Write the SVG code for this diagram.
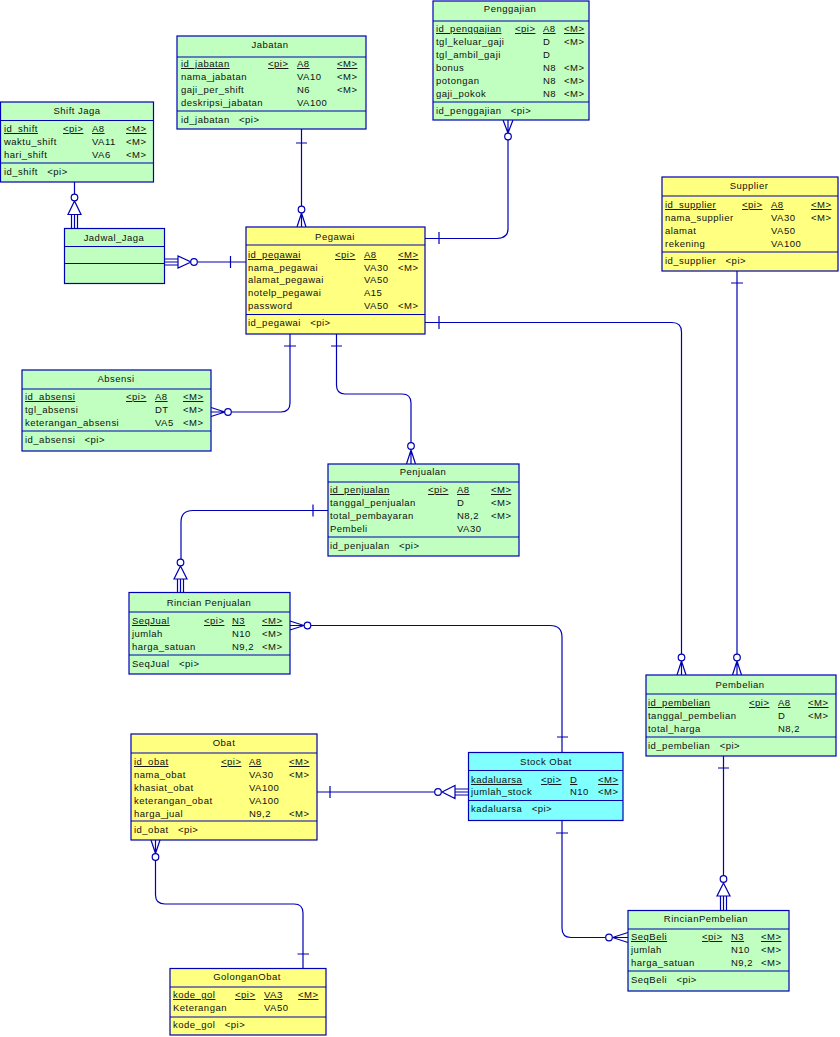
<svg xmlns="http://www.w3.org/2000/svg" width="840" height="1037" viewBox="0 0 840 1037">
<style>
text{font-family:"Liberation Sans",Arial,sans-serif;font-size:9.5px;letter-spacing:.48px;fill:#101010;white-space:pre}
.t{text-anchor:middle}
.u{text-decoration:underline}
.b{stroke:#0000b4;stroke-width:1.2}
.g{fill:#c0ffc0}.y{fill:#ffff80}.c{fill:#80ffff}
.l,.l *{fill:none;stroke:#0000b4;stroke-width:1.2}
.l circle{fill:#fff}
</style>
<rect width="840" height="1037" fill="#fff"/>
<g id="connectors" class="l">
<path d="M301.500 129V206M296 143H307M301.500 213L297 227M301.500 213V227M301.500 213L306 227"/><circle cx="301.500" cy="209.500" r="3.300"/>
<path d="M508 133V229Q508 238 497 238.500H425M439 232V244M508 133L503 120M508 133V120M508 133L513 120"/><circle cx="508" cy="136.500" r="3.300"/>
<path d="M425 322.500H672Q681.500 322.500 681.500 332V654M439 316V329M681.500 661L677 675M681.500 661V675M681.500 661L686 675"/><circle cx="681.500" cy="657.500" r="3.300"/>
<path d="M737 271V654M731 283H743M737 661L732.500 675M737 661V675M737 661L741.500 675"/><circle cx="737" cy="657.500" r="3.300"/>
<path d="M723.500 756V875M718 768H729M723.500 883L717 896H730ZM720.500 896V910M723.500 896V910M726.500 896V910"/><circle cx="723.500" cy="879" r="3.300"/>
<path d="M74.500 182V194M74.500 201L68 214.500H81ZM71.500 214.500V228M74.500 214.500V228M77.500 214.500V228"/><circle cx="74.500" cy="197.500" r="3.300"/>
<path d="M164 259H178M164 262H178M164 265H178M178 256V268L191 262ZM197.500 262H246M230.500 256V268"/><circle cx="194" cy="262" r="3.300"/>
<path d="M290 334V403Q290 412 281 412H231.500M284 346H296M225 412L211 407.500M225 412H211M225 412L211 416.500"/><circle cx="228" cy="412" r="3.300"/>
<path d="M336.500 334V385Q336.500 394 345 394H402Q411 394 411 403V442.500M331 346H342M411 450L406.500 464M411 450V464M411 450L415.500 464"/><circle cx="411" cy="446" r="3.300"/>
<path d="M328 510.500H193Q181 510.500 181 522V559M313 504.500V516.500M180.500 566L174 579H187ZM177.500 579V592.500M180.500 579V592.500M183.500 579V592.500"/><circle cx="180.500" cy="562.500" r="3.300"/>
<path d="M311 625.500H550Q562 625.500 562 637V752.500M557 737H568M304 625.500L290 621M304 625.500H290M304 625.500L290 630"/><circle cx="307.500" cy="625.500" r="3.300"/>
<path d="M317 792H434.500M330 786V798M442 792L455 785.500V798.500ZM455 789H468.500M455 792H468.500M455 795H468.500"/><circle cx="438" cy="792" r="3.300"/>
<path d="M562 820V928Q562 937.500 571 937.500H605.500M556 833H568M612.500 937.500L628 932.500M612.500 937.500H628M612.500 937.500L628 942.500"/><circle cx="609" cy="937.500" r="3.300"/>
<path d="M155.500 860.500V895Q155.500 904 165 904H294Q303 904 303 913V968.500M297.500 954H309M155.500 853.500L151 840M155.500 853.500V840M155.500 853.500L160 840"/><circle cx="155.500" cy="857" r="3.300"/>
</g>
<g id="jabatan">
<rect class="g b" x="177" y="36" width="189" height="93"/><path class="b" d="M177 57H366M177 111H366"/>
<text class="t" x="270" y="48">Jabatan</text>
<text class="u" x="181" y="67">id_jabatan</text><text class="u" x="268" y="67">&lt;pi&gt;</text><text class="u" x="297" y="67">A8</text><text class="u" x="337" y="67">&lt;M&gt;</text>
<text x="181" y="80">nama_jabatan</text><text x="297" y="80">VA10</text><text x="337" y="80">&lt;M&gt;</text>
<text x="181" y="93">gaji_per_shift</text><text x="297" y="93">N6</text><text x="337" y="93">&lt;M&gt;</text>
<text x="181" y="106">deskripsi_jabatan</text><text x="297" y="106">VA100</text>
<text x="181" y="123">id_jabatan   &lt;pi&gt;</text>
</g>
<g id="penggajian">
<rect class="g b" x="433" y="1" width="156" height="119"/><path class="b" d="M433 21H589M433 102H589"/>
<text class="t" x="510" y="12">Penggajian</text>
<text class="u" x="436" y="32">id_penggajian</text><text class="u" x="515" y="32">&lt;pi&gt;</text><text class="u" x="543" y="32">A8</text><text class="u" x="564" y="32">&lt;M&gt;</text>
<text x="436" y="45">tgl_keluar_gaji</text><text x="543" y="45">D</text><text x="564" y="45">&lt;M&gt;</text>
<text x="436" y="58">tgl_ambil_gaji</text><text x="543" y="58">D</text>
<text x="436" y="71">bonus</text><text x="543" y="71">N8</text><text x="564" y="71">&lt;M&gt;</text>
<text x="436" y="84">potongan</text><text x="543" y="84">N8</text><text x="564" y="84">&lt;M&gt;</text>
<text x="436" y="97">gaji_pokok</text><text x="543" y="97">N8</text><text x="564" y="97">&lt;M&gt;</text>
<text x="436" y="114">id_penggajian   &lt;pi&gt;</text>
</g>
<g id="shift-jaga">
<rect class="g b" x=".5" y="102" width="153" height="80"/><path class="b" d="M.5 120.500H153.500M.5 163H153.500"/>
<text class="t" x="77" y="114">Shift Jaga</text>
<text class="u" x="4" y="132">id_shift</text><text class="u" x="63" y="132">&lt;pi&gt;</text><text class="u" x="92" y="132">A8</text><text class="u" x="126" y="132">&lt;M&gt;</text>
<text x="4" y="145">waktu_shift</text><text x="92" y="145">VA11</text><text x="126" y="145">&lt;M&gt;</text>
<text x="4" y="158">hari_shift</text><text x="92" y="158">VA6</text><text x="126" y="158">&lt;M&gt;</text>
<text x="4" y="175">id_shift   &lt;pi&gt;</text>
</g>
<g id="jadwal-jaga">
<rect class="g b" x="64.500" y="228.500" width="100" height="55"/><path class="b" d="M64.500 246.500H164.500M64.500 263.500H164.500"/>
<text class="t" x="114" y="241">Jadwal_Jaga</text>
</g>
<g id="pegawai">
<rect class="y b" x="246" y="227" width="179" height="107"/><path class="b" d="M246 245H425M246 314.500H425"/>
<text class="t" x="335" y="240">Pegawai</text>
<text class="u" x="248" y="258">id_pegawai</text><text class="u" x="335" y="258">&lt;pi&gt;</text><text class="u" x="364" y="258">A8</text><text class="u" x="398" y="258">&lt;M&gt;</text>
<text x="248" y="271">nama_pegawai</text><text x="364" y="271">VA30</text><text x="398" y="271">&lt;M&gt;</text>
<text x="248" y="283">alamat_pegawai</text><text x="364" y="283">VA50</text>
<text x="248" y="296">notelp_pegawai</text><text x="364" y="296">A15</text>
<text x="248" y="309">password</text><text x="364" y="309">VA50</text><text x="398" y="309">&lt;M&gt;</text>
<text x="248" y="326">id_pegawai   &lt;pi&gt;</text>
</g>
<g id="supplier">
<rect class="y b" x="662" y="177" width="176" height="94"/><path class="b" d="M662 196H838M662 252H838"/>
<text class="t" x="749" y="189">Supplier</text>
<text class="u" x="665" y="208">id_supplier</text><text class="u" x="742" y="208">&lt;pi&gt;</text><text class="u" x="771" y="208">A8</text><text class="u" x="811" y="208">&lt;M&gt;</text>
<text x="665" y="221">nama_supplier</text><text x="771" y="221">VA30</text><text x="811" y="221">&lt;M&gt;</text>
<text x="665" y="234">alamat</text><text x="771" y="234">VA50</text>
<text x="665" y="247">rekening</text><text x="771" y="247">VA100</text>
<text x="665" y="264">id_supplier   &lt;pi&gt;</text>
</g>
<g id="absensi">
<rect class="g b" x="22" y="370" width="189" height="81"/><path class="b" d="M22 389H211M22 431H211"/>
<text class="t" x="116" y="382">Absensi</text>
<text class="u" x="25" y="400">id_absensi</text><text class="u" x="126" y="400">&lt;pi&gt;</text><text class="u" x="155" y="400">A8</text><text class="u" x="183" y="400">&lt;M&gt;</text>
<text x="25" y="413">tgl_absensi</text><text x="155" y="413">DT</text><text x="183" y="413">&lt;M&gt;</text>
<text x="25" y="426">keterangan_absensi</text><text x="155" y="426">VA5</text><text x="183" y="426">&lt;M&gt;</text>
<text x="25" y="443">id_absensi   &lt;pi&gt;</text>
</g>
<g id="penjualan">
<rect class="g b" x="328" y="464" width="191" height="92"/><path class="b" d="M328 482H519M328 537H519"/>
<text class="t" x="423" y="475">Penjualan</text>
<text class="u" x="330" y="493">id_penjualan</text><text class="u" x="428" y="493">&lt;pi&gt;</text><text class="u" x="457" y="493">A8</text><text class="u" x="491" y="493">&lt;M&gt;</text>
<text x="330" y="506">tanggal_penjualan</text><text x="457" y="506">D</text><text x="491" y="506">&lt;M&gt;</text>
<text x="330" y="519">total_pembayaran</text><text x="457" y="519">N8,2</text><text x="491" y="519">&lt;M&gt;</text>
<text x="330" y="532">Pembeli</text><text x="457" y="532">VA30</text>
<text x="330" y="549">id_penjualan   &lt;pi&gt;</text>
</g>
<g id="rincian-penjualan">
<rect class="g b" x="129" y="592.500" width="161" height="81.500"/><path class="b" d="M129 612H290M129 655H290"/>
<text class="t" x="209" y="606">Rincian Penjualan</text>
<text class="u" x="132" y="624">SeqJual</text><text class="u" x="204" y="624">&lt;pi&gt;</text><text class="u" x="232" y="624">N3</text><text class="u" x="262" y="624">&lt;M&gt;</text>
<text x="132" y="637">jumlah</text><text x="232" y="637">N10</text><text x="262" y="637">&lt;M&gt;</text>
<text x="132" y="650">harga_satuan</text><text x="232" y="650">N9,2</text><text x="262" y="650">&lt;M&gt;</text>
<text x="132" y="667">SeqJual   &lt;pi&gt;</text>
</g>
<g id="pembelian">
<rect class="g b" x="646" y="675" width="190" height="81"/><path class="b" d="M646 694H836M646 737H836"/>
<text class="t" x="740" y="688">Pembelian</text>
<text class="u" x="648" y="706">id_pembelian</text><text class="u" x="749" y="706">&lt;pi&gt;</text><text class="u" x="778" y="706">A8</text><text class="u" x="808" y="706">&lt;M&gt;</text>
<text x="648" y="719">tanggal_pembelian</text><text x="778" y="719">D</text><text x="808" y="719">&lt;M&gt;</text>
<text x="648" y="732">total_harga</text><text x="778" y="732">N8,2</text>
<text x="648" y="749">id_pembelian   &lt;pi&gt;</text>
</g>
<g id="obat">
<rect class="y b" x="131" y="734" width="186" height="106"/><path class="b" d="M131 753H317M131 821H317"/>
<text class="t" x="224" y="746">Obat</text>
<text class="u" x="134" y="765">id_obat</text><text class="u" x="221" y="765">&lt;pi&gt;</text><text class="u" x="249" y="765">A8</text><text class="u" x="289" y="765">&lt;M&gt;</text>
<text x="134" y="778">nama_obat</text><text x="249" y="778">VA30</text><text x="289" y="778">&lt;M&gt;</text>
<text x="134" y="791">khasiat_obat</text><text x="249" y="791">VA100</text>
<text x="134" y="804">keterangan_obat</text><text x="249" y="804">VA100</text>
<text x="134" y="817">harga_jual</text><text x="249" y="817">N9,2</text><text x="289" y="817">&lt;M&gt;</text>
<text x="134" y="833">id_obat   &lt;pi&gt;</text>
</g>
<g id="stock-obat">
<rect class="c b" x="468.500" y="752.500" width="154.500" height="68"/><path class="b" d="M468.500 770.500H623M468.500 800.500H623"/>
<text class="t" x="546" y="765">Stock Obat</text>
<text class="u" x="471" y="783">kadaluarsa</text><text class="u" x="541" y="783">&lt;pi&gt;</text><text class="u" x="570" y="783">D</text><text class="u" x="598" y="783">&lt;M&gt;</text>
<text x="471" y="795">jumlah_stock</text><text x="570" y="795">N10</text><text x="598" y="795">&lt;M&gt;</text>
<text x="471" y="812">kadaluarsa   &lt;pi&gt;</text>
</g>
<g id="rincian-pembelian">
<rect class="g b" x="628" y="910.500" width="161" height="80.500"/><path class="b" d="M628 929H789M628 971H789"/>
<text class="t" x="706" y="922">RincianPembelian</text>
<text class="u" x="631" y="940">SeqBeli</text><text class="u" x="702" y="940">&lt;pi&gt;</text><text class="u" x="731" y="940">N3</text><text class="u" x="761" y="940">&lt;M&gt;</text>
<text x="631" y="953">jumlah</text><text x="731" y="953">N10</text><text x="761" y="953">&lt;M&gt;</text>
<text x="631" y="966">harga_satuan</text><text x="731" y="966">N9,2</text><text x="761" y="966">&lt;M&gt;</text>
<text x="631" y="983">SeqBeli   &lt;pi&gt;</text>
</g>
<g id="golongan-obat">
<rect class="y b" x="170" y="968.500" width="156" height="66.500"/><path class="b" d="M170 987H326M170 1017H326"/>
<text class="t" x="247" y="980">GolonganObat</text>
<text class="u" x="173" y="998">kode_gol</text><text class="u" x="235" y="998">&lt;pi&gt;</text><text class="u" x="264" y="998">VA3</text><text class="u" x="298" y="998">&lt;M&gt;</text>
<text x="173" y="1011">Keterangan</text><text x="264" y="1011">VA50</text>
<text x="173" y="1028">kode_gol   &lt;pi&gt;</text>
</g>
</svg>
